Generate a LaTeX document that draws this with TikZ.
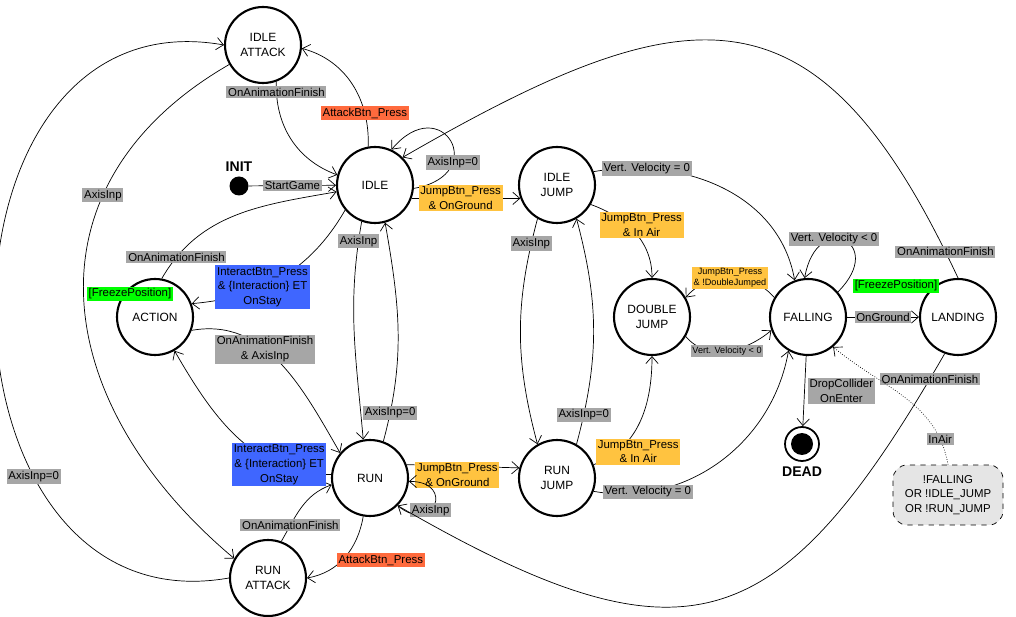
\documentclass[tikz,border=0pt]{standalone}
\usepackage{fontspec}
\setmainfont{Liberation Sans}
\usetikzlibrary{arrows.meta}
\definecolor{lblgray}{HTML}{A6A6A6}
\definecolor{jmporange}{HTML}{FFC340}
\definecolor{atkred}{HTML}{FF6A3D}
\definecolor{actblue}{HTML}{3F66FF}
\definecolor{frzgreen}{HTML}{00FF00}
\tikzset{
  state/.style={draw, circle, line width=1.2pt, minimum size=1.52cm, inner sep=0pt, align=center, font=\fontsize{6.8}{8.2}\selectfont},
  lbl/.style={fill=lblgray, inner sep=1pt, align=center, font=\fontsize{6.5}{8.4}\selectfont},
  jmp/.style={lbl, fill=jmporange},
  atk/.style={lbl, fill=atkred},
  act/.style={lbl, fill=actblue},
  frz/.style={lbl, fill=frzgreen},
  tr/.style={-{Straight Barb[length=4pt,width=7pt]}, thin}
}
\begin{document}
\begin{tikzpicture}[x=0.02cm, y=-0.02cm]
    \useasboundingbox (0,0) rectangle (1016,617);

    % states
    \node[state] (iatk) at (263,45) {IDLE\\ATTACK};
    \node[state] (idle) at (375,185) {IDLE};
    \node[state] (ijump) at (557,185) {IDLE\\JUMP};
    \node[state] (djump) at (652,317) {DOUBLE\\JUMP};
    \node[state] (fall) at (808,317) {FALLING};
    \node[state] (land) at (958,317) {LANDING};
    \node[state] (action) at (155,317) {ACTION};
    \node[state] (run) at (370,478) {RUN};
    \node[state] (rjump) at (557,478) {RUN\\JUMP};
    \node[state] (ratk) at (268,578) {RUN\\ATTACK};
    \node[circle, fill=black, minimum size=0.38cm, inner sep=0pt] (init) at (239,186) {};
    \node[font=\bfseries\fontsize{8}{9}\selectfont] (initlbl) at (239,167) {INIT};
    \node[circle, draw, line width=1pt, minimum size=0.68cm, inner sep=0pt] (dead) at (802,444) {};
    \node[circle, fill=black, minimum size=0.44cm, inner sep=0pt] (deadin) at (802,444) {};
    \node[font=\bfseries\fontsize{8}{9}\selectfont] (deadlbl) at (802,472) {DEAD};
    \node[draw, dashed, rounded corners=8pt, fill=black!10, minimum width=2.2cm, minimum height=1.2cm, align=center, font=\fontsize{6.5}{8.4}\selectfont] (note) at (948,495) {!FALLING\\OR !IDLE\_JUMP\\OR !RUN\_JUMP};
    \node[frz] (frzact) at (130,294) {[FreezePosition]};
    \node[frz] (frzland) at (896,286) {[FreezePosition]};

    % transitions
    \draw[tr] (init) -- node[lbl] {StartGame} (idle);
    \draw[tr] (idle.-5) to[out=10,in=50,looseness=4.5] node[lbl,pos=0.3] {AxisInp=0} (idle.65);
    \draw[tr] (idle.100) to[out=88,in=-15] node[atk,pos=0.25] {AttackBtn\_Press} (iatk.-5);
    \draw[tr] (iatk.-70) to[out=-92,in=160] node[lbl,pos=0.08] {OnAnimationFinish} (idle.165);
    \draw[tr] (idle.-20) -- node[jmp,pos=0.45] {JumpBtn\_Press\\\& OnGround} (ijump.200);
    \draw[tr] (idle.-110) to[out=-100,in=95] node[lbl,pos=0.08] {AxisInp} (run.100);
    \draw[tr] (run.70) to[out=75,in=-80] node[lbl,pos=0.12] {AxisInp=0} (idle.-75);
    \draw[tr] (ijump.-30) to[out=-20,in=90] node[jmp,pos=0.4,xshift=8] {JumpBtn\_Press\\\& In Air} (djump.90);
    \draw[tr] (ijump.20) to[out=10,in=100] node[lbl,pos=0.2] {Vert. Velocity = 0} (fall.110);
    \draw[tr] (ijump.-120) to[out=-105,in=105] node[lbl,pos=0.1] {AxisInp} (rjump.120);
    \draw[tr] (rjump.60) to[out=75,in=-75] node[lbl,pos=0.12] {AxisInp=0} (ijump.-60);
    \draw[tr] (rjump.20) to[out=20,in=-90] node[jmp,pos=0.2,xshift=12] {JumpBtn\_Press\\\& In Air} (djump.-90);
    \draw[tr] (rjump.-20) to[out=-10,in=-100] node[lbl,pos=0.2] {Vert. Velocity = 0} (fall.-120);
    \draw[tr] (run.20) -- node[jmp,pos=0.45,yshift=-5] {JumpBtn\_Press\\\& OnGround} (rjump.165);
    \draw[tr] (run.-45) to[out=-40,in=0,looseness=4.5] node[lbl,pos=0.4] {AxisInp} (run.-5);
    \draw[tr] (run.-100) to[out=-100,in=10] node[atk,pos=0.55,xshift=22] {AttackBtn\_Press} (ratk.0);
    \draw[tr] (ratk.70) to[out=60,in=200] node[lbl,pos=0.22] {OnAnimationFinish} (run.190);
    \draw[tr] (djump.-30) to[out=-50,in=-140] node[lbl,pos=0.5,font=\fontsize{5.2}{6}\selectfont] {Vert. Velocity < 0} (fall.200);
    \draw[tr] (fall.150) to[out=130,in=50] node[jmp,pos=0.5,font=\fontsize{5.2}{6}\selectfont] {JumpBtn\_Press\\\& !DoubleJumped} (djump.30);
    \draw[tr] (fall.40) to[out=45,in=80,looseness=5] node[lbl,pos=0.62] {Vert. Velocity < 0} (fall.95);
    \draw[tr] (fall) -- node[lbl] {OnGround} (land);
    \draw[tr] (land.90) to[out=115,in=30,looseness=1.5] node[lbl,pos=0.03] {OnAnimationFinish} (idle.45);
    \draw[tr] (land.-110) to[out=-120,in=-30,looseness=1.5] node[lbl,pos=0.03] {OnAnimationFinish} (run.-45);
    \draw[tr] (fall) -- node[lbl,xshift=21] {DropCollider\\OnEnter} (dead);
    \draw[tr, densely dotted] (note.north) to[out=100,in=-40] node[lbl,pos=0.15] {InAir} (fall.-50);
    \draw[tr] (idle.-140) to[out=-120,in=5] node[act,pos=0.62] {InteractBtn\_Press\\\& \{Interaction\} ET\\OnStay} (action.20);
    \draw[tr] (action.80) to[out=60,in=190] node[lbl,pos=0.12] {OnAnimationFinish} (idle.190);
    \draw[tr] (action.-20) to[out=10,in=120] node[lbl,pos=0.4] {OnAnimationFinish\\\& AxisInp} (run.140);
    \draw[tr] (run.175) to[out=180,in=-60] node[act,pos=0.25] {InteractBtn\_Press\\\& \{Interaction\} ET\\OnStay} (action.-60);
    \draw[tr] (ratk.180) to[out=190,in=170,looseness=1.5] node[lbl,pos=0.3] {AxisInp=0} (iatk.180);
    \draw[tr] (iatk.-150) to[out=-150,in=140,looseness=1.25] node[lbl,pos=0.3] {AxisInp} (ratk.150);

\end{tikzpicture}
\end{document}
